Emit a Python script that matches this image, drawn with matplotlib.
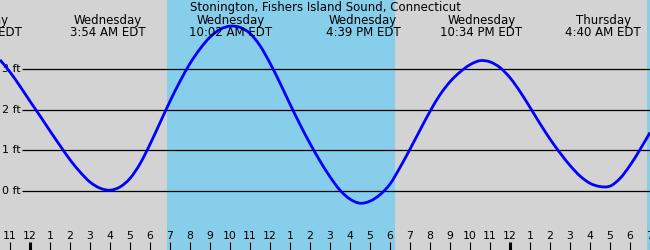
import numpy as np
import matplotlib.pyplot as plt
from matplotlib.path import Path
from matplotlib.patches import PathPatch

# heure 0 = minuit mercredi, valeurs lues toutes les demi-heures
heures = np.arange(-1.5, 31.5, 0.5)
hauteur = [3.23, 2.93, 2.58, 2.21, 1.85, 1.48, 1.12, 0.77, 0.47, 0.22, 0.07, 0.02,
           0.10, 0.31, 0.67, 1.15, 1.68, 2.21, 2.70, 3.14, 3.50, 3.79, 3.98, 4.06,
           4.03, 3.88, 3.58, 3.15, 2.66, 2.14, 1.64, 1.17, 0.74, 0.35, 0.02, -0.20,
           -0.30, -0.25, -0.09, 0.17, 0.58, 1.03, 1.50, 1.96, 2.37, 2.69, 2.93, 3.11,
           3.21, 3.18, 3.04, 2.79, 2.45, 2.06, 1.66, 1.28, 0.94, 0.63, 0.37, 0.19,
           0.11, 0.12, 0.31, 0.63, 1.02, 1.44]

# marées hautes / basses
evt_heure = [-2.3, 3.9, 10.033, 16.65, 22.567, 28.667]
evt_jour = ['Tuesday', 'Wednesday', 'Wednesday', 'Wednesday', 'Wednesday', 'Thursday']
evt_texte = ['9:42 PM EDT', '3:54 AM EDT', '10:02 AM EDT', '4:39 PM EDT',
             '10:34 PM EDT', '4:40 AM EDT']

# jour (lever, coucher)
jour_debut = [6.83, 30.83]
jour_fin = [18.25, 32.0]

niveaux = [0, 1, 2, 3]
niveaux_txt = ['0 ft', '1 ft', '2 ft', '3 ft']

ticks_h = list(range(-1, 32))
ticks_txt = ['11', '12', '1', '2', '3', '4', '5', '6', '7', '8', '9', '10', '11',
             '12', '1', '2', '3', '4', '5', '6', '7', '8', '9', '10', '11',
             '12', '1', '2', '3', '4', '5', '6', '7']
minuits = [0, 24]

titre = 'Stonington, Fishers Island Sound, Connecticut'


def chemin_lisse(x, y):
    # courbe de Bezier passant par les points (Catmull-Rom)
    p = np.column_stack([x, y])
    verts = [p[0]]
    codes = [Path.MOVETO]
    n = len(p)
    for i in range(n - 1):
        p0 = p[max(i - 1, 0)]
        p1 = p[i]
        p2 = p[i + 1]
        p3 = p[min(i + 2, n - 1)]
        verts += [p1 + (p2 - p0) / 6, p2 - (p3 - p1) / 6, p2]
        codes += [Path.CURVE4] * 3
    return Path(verts, codes)


fig = plt.figure(figsize=(6.5, 2.5), dpi=100)
fig.patch.set_facecolor('#D3D3D3')
ax = fig.add_axes([0, 0, 1, 1])
ax.set_axis_off()
ax.set_xlim(-1.5, 31)
ax.set_ylim(-1.453, 4.704)

for d, f in zip(jour_debut, jour_fin):
    ax.axvspan(d, f, color='#87CEEB', lw=0, zorder=0)

ax.hlines(niveaux, -0.4, 31, color='black', lw=0.9, zorder=1)
for n, t in zip(niveaux, niveaux_txt):
    ax.text(-0.45, n, t, ha='right', va='center', fontsize=8, zorder=2)

courbe = PathPatch(chemin_lisse(heures, hauteur), facecolor='none',
                   edgecolor='#0000FF', lw=2.0, zorder=3)
ax.add_patch(courbe)

tr = ax.get_xaxis_transform()
for h, t in zip(ticks_h, ticks_txt):
    lw = 2.2 if h in minuits else 0.8
    ax.vlines(h, 0, 0.032, color='black', lw=lw, transform=tr)
    ax.text(h, 0.044, t, ha='center', va='baseline', fontsize=7.8, transform=tr)

for h, j, t in zip(evt_heure, evt_jour, evt_texte):
    ax.text(h, 0.904, j, ha='center', va='baseline', fontsize=8.5, transform=tr)
    ax.text(h, 0.856, t, ha='center', va='baseline', fontsize=8.5, transform=tr)

ax.text(0.5, 0.956, titre, ha='center', va='baseline', fontsize=8.5,
        transform=ax.transAxes)

fig.savefig('out.png', dpi=100, facecolor=fig.get_facecolor())
